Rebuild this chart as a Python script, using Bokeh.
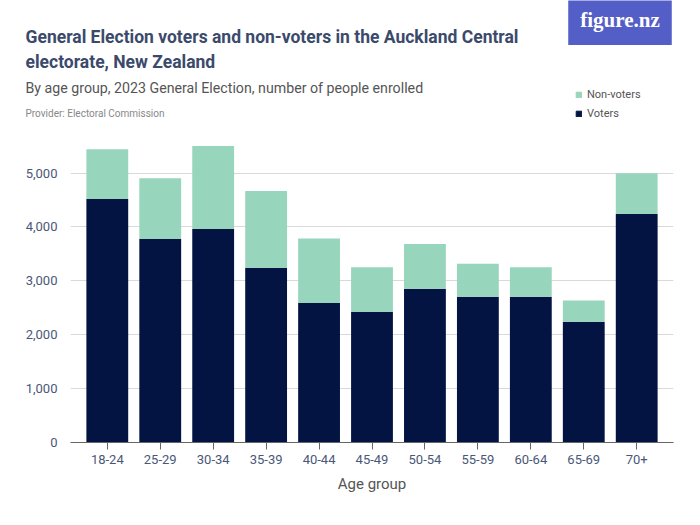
from bokeh.plotting import figure
from bokeh.layouts import column
from bokeh.models import (ColumnDataSource, FactorRange, Range1d, Label, Legend, LegendItem,
                          FixedTicker, NumeralTickFormatter)
from bokeh.embed import file_html
from bokeh.resources import INLINE

age_groups = ["18-24", "25-29", "30-34", "35-39", "40-44", "45-49",
              "50-54", "55-59", "60-64", "65-69", "70+"]
voters = [4520, 3778, 3963, 3241, 2587, 2420, 2852, 2704, 2704, 2241, 4241]
totals = [5439, 4902, 5500, 4667, 3784, 3253, 3685, 3315, 3253, 2635, 4994]
non_voters = [t - v for t, v in zip(totals, voters)]
y_ticks = [0, 1000, 2000, 3000, 4000, 5000]

title_1 = "General Election voters and non-voters in the Auckland Central"
title_2 = "electorate, New Zealand"
subtitle = "By age group, 2023 General Election, number of people enrolled"
provider = "Provider: Electoral Commission"
logo_text = "figure.nz"

FONT = "Roboto"
DARK = "#031443"
MINT = "#97d6bc"
HEAD_H = 130

# ---------- header (titles, logo, legend) ----------
head = figure(width=700, height=HEAD_H, output_backend="svg", toolbar_location=None,
              x_range=Range1d(0, 700), y_range=Range1d(0, HEAD_H),
              x_axis_type=None, y_axis_type=None,
              min_border=0, min_border_left=0, min_border_right=0,
              min_border_top=0, min_border_bottom=0)
head.frame_align = False
head.outline_line_color = None
head.xgrid.grid_line_color = None
head.ygrid.grid_line_color = None

def header(text, y_base, size, color, style="normal"):
    head.add_layout(Label(x=25, y=HEAD_H - y_base, x_units="screen", y_units="screen",
                          text=text, text_font=FONT, text_font_size=size,
                          text_color=color, text_font_style=style,
                          text_baseline="alphabetic"))

header(title_1, 36.5, "17.5px", "#3b4a6b", "bold")
header(title_2, 61.5, "17.5px", "#3b4a6b", "bold")
header(subtitle, 87, "14.2px", "#555555")
header(provider, 113.3, "10px", "#888888")

head.add_layout(Label(x=619.5, y=HEAD_H - 19.5, x_units="screen", y_units="screen",
                      text=logo_text, text_font="Liberation Serif", text_font_size="21px",
                      text_font_style="bold", text_color="white", text_align="center",
                      text_baseline="middle", background_fill_color="#535fc6",
                      padding=(12, 13)))

# hidden copies of the series, used only to give the legend its swatches
positions = list(range(len(age_groups)))
sw_non = head.vbar(x=positions, top=non_voters, width=0.79, color=MINT, visible=False)
sw_vot = head.vbar(x=positions, top=voters, width=0.79, color=DARK, visible=False)
legend = Legend(items=[LegendItem(label="Non-voters", renderers=[sw_non]),
                       LegendItem(label="Voters", renderers=[sw_vot])],
                location=(575, 10), orientation="vertical",
                glyph_width=7, glyph_height=7, label_standoff=5, spacing=6,
                label_height=13, padding=0, margin=0,
                border_line_color=None, background_fill_alpha=0,
                inactive_fill_alpha=0,
                label_text_font=FONT, label_text_font_size="11px",
                label_text_color="#555555")
head.add_layout(legend, "center")

# ---------- chart ----------
source = ColumnDataSource(dict(age=age_groups, Voters=voters, Nonvoters=non_voters))

p = figure(width=700, height=525 - HEAD_H, output_backend="svg", toolbar_location=None,
           x_range=FactorRange(factors=age_groups, range_padding=0.195,
                               range_padding_units="absolute"),
           y_range=Range1d(0, 5696),
           min_border_left=70, min_border_right=27, min_border_top=5,
           min_border_bottom=83)
p.frame_align = False
p.outline_line_color = None

p.vbar_stack(["Voters", "Nonvoters"], x="age", width=0.79, source=source,
             color=[DARK, MINT], line_color=None)

p.xgrid.grid_line_color = None
p.ygrid.grid_line_color = "#d9d9d9"
p.ygrid.ticker = FixedTicker(ticks=y_ticks)

p.yaxis.ticker = FixedTicker(ticks=y_ticks)
p.yaxis.formatter = NumeralTickFormatter(format="0,0")
p.yaxis.axis_line_color = None
p.yaxis.major_tick_line_color = None
p.yaxis.minor_tick_line_color = None
p.yaxis.major_label_standoff = 7
p.yaxis.major_label_text_font = FONT
p.yaxis.major_label_text_font_size = "13px"
p.yaxis.major_label_text_color = "#4a5878"

p.xaxis.axis_line_color = "#666666"
p.xaxis.major_tick_line_color = "#666666"
p.xaxis.major_tick_out = 7
p.xaxis.major_tick_in = 0
p.xaxis.major_label_standoff = 5
p.xaxis.major_label_text_font = FONT
p.xaxis.major_label_text_font_size = "13px"
p.xaxis.major_label_text_color = "#4a5878"
p.xaxis.axis_label = "Age group"
p.xaxis.axis_label_text_font = FONT
p.xaxis.axis_label_text_font_size = "15px"
p.xaxis.axis_label_text_font_style = "normal"
p.xaxis.axis_label_text_color = "#555555"
p.xaxis.axis_label_standoff = 8

layout = column(head, p, spacing=0)
open("out.html", "w").write(file_html(layout, INLINE))
